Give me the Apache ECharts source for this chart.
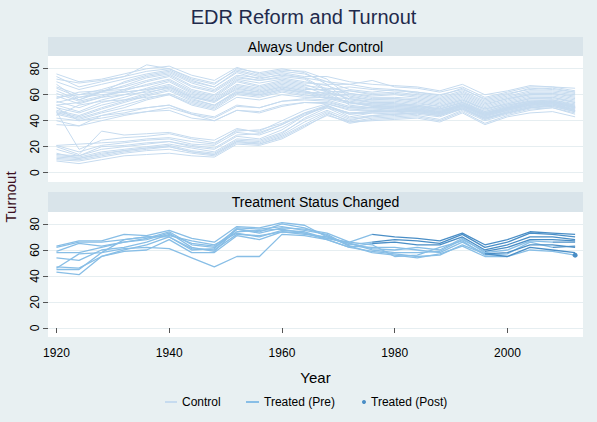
<!DOCTYPE html>
<html><head><meta charset="utf-8">
<script src="https://cdn.jsdelivr.net/npm/echarts@6/dist/echarts.min.js"></script>
<style>html,body{margin:0;padding:0;background:#e8f0f2;}#c{width:597px;height:422px;}</style>
</head><body><div id="c"></div>
<script>
const years = [1920,1924,1928,1932,1936,1940,1944,1948,1952,1956,1960,1964,1968,1972,1976,1980,1984,1988,1992,1996,2000,2004,2008,2012];
const yTicks = [0,20,40,60,80];
const xTicks = [1920,1940,1960,1980,2000];

// Always under control (turnout, %)
const ctrl01 = [76,70,72,76,80,82,75,71,81,76,79,78,72,58,56,56,54,51,56,49,53,57,58,54];
const ctrl02 = [74,66,70,74,78,80,73,69,79,75,78,76,70,64,62,64,61,58,63,55,59,63,63,61];
const ctrl03 = [72,69,71,74,83,80,72,68,80,77,80,77,68,54,52,52,51,48,53,46,50,54,55,50];
const ctrl04 = [70,64,68,72,76,79,71,66,78,74,77,74,74,70,68,67,66,63,68,60,63,67,66,65];
const ctrl05 = [68,56,62,70,75,78,70,66,77,72,76,73,64,56,54,53,52,49,54,47,52,55,56,52];
const ctrl06 = [66,60,64,69,74,77,69,64,75,73,75,73,70,68,65,64,62,60,64,57,61,64,65,62];
const ctrl07 = [65,58,62,67,73,76,67,63,74,71,74,72,63,52,50,50,49,46,51,44,49,52,53,48];
const ctrl08 = [63,56,63,66,71,75,66,62,73,71,73,70,67,61,59,60,58,55,60,52,57,60,61,58];
const ctrl09 = [61,55,59,64,70,74,64,60,72,69,72,69,68,68,71,66,65,62,66,58,62,66,66,63];
const ctrl10 = [59,53,58,63,68,72,63,59,71,67,71,68,62,57,54,54,52,50,55,47,52,56,56,53];
const ctrl11 = [57,62,63,64,67,71,62,58,70,66,70,67,65,63,61,62,60,57,62,54,58,62,62,60];
const ctrl12 = [55,50,56,60,65,70,61,57,68,65,69,66,60,54,52,51,50,48,52,45,50,53,54,50];
const ctrl13 = [54,58,60,62,64,68,60,56,67,64,68,65,63,61,58,58,57,54,59,51,56,60,60,57];
const ctrl14 = [52,47,54,58,63,67,59,55,66,63,67,64,64,66,64,63,62,59,65,56,60,65,64,62];
const ctrl15 = [50,46,52,56,61,66,58,54,65,62,66,63,59,54,51,51,50,47,52,45,50,54,54,50];
const ctrl16 = [48,44,50,55,60,64,56,52,63,61,65,62,61,60,57,57,56,53,58,50,55,59,59,56];
const ctrl17 = [47,43,49,54,59,63,55,51,62,60,64,61,62,63,60,61,59,56,61,53,57,61,61,59];
const ctrl18 = [46,42,47,52,57,61,54,50,61,59,63,60,57,55,53,53,51,49,54,46,51,55,55,52];
const ctrl19 = [45,41,46,50,56,60,53,49,60,58,62,59,60,59,56,57,55,52,57,49,54,58,58,55];
const ctrl20 = [44,52,55,56,58,60,52,48,58,56,60,58,58,57,55,55,53,51,56,48,53,57,57,54];
const ctrl21 = [52,54,58,60,62,65,57,52,62,60,64,62,57,53,53,52,51,49,54,46,51,55,55,51];
const ctrl22 = [58,60,62,62,64,66,58,55,64,62,66,63,58,54,51,50,49,47,52,44,49,53,53,49];
const ctrl23 = [37,36,40,44,47,50,45,42,51,50,55,56,55,50,50,49,48,46,51,43,48,52,53,49];
const ctrl24 = [47,18,25,27,28,30,26,23,32,33,38,46,50,45,46,45,46,44,49,41,46,50,51,47];
const ctrl25 = [50,40,44,48,50,52,46,43,52,50,55,57,56,51,50,49,48,46,52,44,49,53,54,50];
const ctrl26 = [42,40,42,45,47,48,42,40,48,46,51,54,54,50,49,48,47,45,50,42,47,51,52,48];
const ctrl27 = [21,22,23,24,26,27,24,22,33,32,40,48,53,48,48,48,49,47,53,45,50,54,55,51];
const ctrl28 = [20,14,32,29,30,31,27,25,34,31,37,46,52,45,47,47,48,46,52,45,49,53,54,50];
const ctrl29 = [21,16,21,23,25,26,22,21,31,29,35,44,51,46,47,47,48,46,52,44,48,52,54,50];
const ctrl30 = [14,13,18,20,22,24,20,18,28,26,33,44,52,43,46,46,47,45,51,43,48,52,54,50];
const ctrl31 = [13,12,16,18,20,22,19,16,26,25,31,41,48,41,43,44,45,43,49,41,46,50,52,48];
const ctrl32 = [12,11,14,17,19,21,17,15,25,24,30,42,50,42,44,45,46,44,50,42,47,51,53,48];
const ctrl33 = [11,10,13,16,18,20,16,14,24,23,29,39,47,39,42,43,44,41,48,40,45,49,50,46];
const ctrl34 = [10,9,12,15,17,18,15,13,23,22,28,37,46,40,44,45,46,44,50,42,46,50,52,47];
const ctrl35 = [9,7,10,13,14,15,13,12,22,21,26,35,45,38,41,42,43,40,47,38,44,48,50,45];
const ctrl36 = [15,11,15,17,19,20,16,14,24,22,27,36,44,39,40,41,42,39,46,37,43,46,47,43];
const ctrl37 = [18,13,20,21,23,24,21,19,29,30,37,45,51,46,47,47,48,46,52,45,50,54,55,51];
const ctrl38 = [40,36,44,46,50,52,45,40,48,47,52,54,53,49,48,47,47,45,49,42,46,50,51,47];

// Treatment status changed
const trtMN = [54,52,60,62,66,72,65,63,76,73,77,76,73,66,72,70,69,67,73,64,68,74,73,72];
const trtWI = [47,46,55,60,64,70,61,60,72,71,74,72,70,64,66,68,67,65,72,62,66,73,72,70];
const trtME = [43,41,55,59,60,68,58,58,71,68,74,73,68,62,65,66,64,64,70,60,64,70,70,68];
const trtNH = [63,67,67,72,71,75,69,66,78,77,81,79,70,65,60,58,58,59,68,59,62,68,68,67];
const trtID = [59,65,63,66,68,73,62,59,76,74,80,77,71,63,62,62,60,58,66,57,58,64,64,62];
const trtWY = [46,57,58,61,62,61,54,47,55,55,72,71,68,62,59,57,55,56,64,57,55,62,60,58];
const trtIA = [58,58,62,66,69,74,64,62,74,75,76,73,69,65,61,60,62,60,69,58,60,67,66,66];
const trtMT = [62,66,66,68,70,71,67,64,73,70,75,74,69,66,64,55,56,62,67,56,57,66,62,63];
const trtCT = [45,45,58,68,70,70,60,61,77,76,78,75,72,63,58,56,54,57,63,55,55,60,59,56];
const treatStart = [1976,1976,1976,1996,1996,1996,2008,2008,2012];

const controlLines = [ctrl01,ctrl02,ctrl03,ctrl04,ctrl05,ctrl06,ctrl07,ctrl08,ctrl09,ctrl10,ctrl11,ctrl12,ctrl13,ctrl14,ctrl15,ctrl16,ctrl17,ctrl18,ctrl19,ctrl20,ctrl21,ctrl22,ctrl23,ctrl24,ctrl25,ctrl26,ctrl27,ctrl28,ctrl29,ctrl30,ctrl31,ctrl32,ctrl33,ctrl34,ctrl35,ctrl36,ctrl37,ctrl38];
const treatedLines = [trtMN,trtWI,trtME,trtNH,trtID,trtWY,trtIA,trtMT,trtCT];

const C_CTRL = '#c6dbef', C_PRE = '#88bee6', C_POST = '#4a8ec6';
const FONT = 'Liberation Sans, Arial, sans-serif';

const series = [];
controlLines.forEach(v => series.push({
  type:'line', name:'Control', xAxisIndex:0, yAxisIndex:0, color:C_CTRL,
  data: years.map((y,i)=>[y,v[i]]), symbol:'none',
  lineStyle:{color:C_CTRL, width:1}, itemStyle:{color:C_CTRL}, silent:true, z:2
}));
treatedLines.forEach((v,j) => {
  const k = years.indexOf(treatStart[j]);
  series.push({
    type:'line', name:'Treated (Pre)', xAxisIndex:1, yAxisIndex:1, color:C_PRE,
    data: years.slice(0,k+1).map((y,i)=>[y,v[i]]), symbol:'none',
    lineStyle:{color:C_PRE, width:1.3}, itemStyle:{color:C_PRE}, silent:true, z:3
  });
});
treatedLines.forEach((v,j) => {
  const k = years.indexOf(treatStart[j]);
  const single = k === years.length-1;
  series.push({
    type:'line', name:'Treated (Post)', xAxisIndex:1, yAxisIndex:1, color:C_POST,
    data: years.slice(k).map((y,i)=>[y,v[k+i]]),
    symbol: single ? 'circle' : 'none', symbolSize:5, showSymbol:single,
    lineStyle:{color:C_POST, width:1.3}, itemStyle:{color:C_POST}, silent:true, z:4
  });
});

function yAx(gi, min, max){
  return {type:'value', gridIndex:gi, min:min, max:max,
    axisLine:{show:false},
    axisTick:{show:true, length:5, customValues:yTicks, lineStyle:{color:'#555'}},
    axisLabel:{customValues:yTicks, rotate:90, fontSize:12, color:'#000', margin:7, fontFamily:FONT},
    splitLine:{show:true, lineStyle:{color:'#e6eef1', width:1}}};
}

const chart = echarts.init(document.getElementById('c'), null, {renderer:'svg'});
chart.setOption({
  backgroundColor:'#e8f0f2',
  animation:false,
  textStyle:{fontFamily:FONT},
  grid:[
    {left:48, top:56, width:535, height:126, show:true, backgroundColor:'#ffffff', borderWidth:0},
    {left:48, top:212, width:535, height:125, show:true, backgroundColor:'#ffffff', borderWidth:0}
  ],
  xAxis:[
    {type:'value', gridIndex:0, min:1918.5, max:2013.4, show:false, splitLine:{show:false}},
    {type:'value', gridIndex:1, min:1918.5, max:2013.4,
     axisLine:{show:false},
     axisTick:{show:true, length:5, customValues:xTicks, lineStyle:{color:'#555'}},
     axisLabel:{customValues:xTicks, fontSize:12, color:'#000', margin:10, fontFamily:FONT,
                formatter: v => String(v)},
     splitLine:{show:false},
     name:'Year', nameLocation:'middle', nameGap:33,
     nameTextStyle:{fontSize:15, color:'#000', fontFamily:FONT}}
  ],
  yAxis:[ yAx(0,-7.15,89.8), yAx(1,-6.9,89.2) ],
  legend:[
    {data:[{name:'Control', icon:'rect'}], left:160, top:391, itemWidth:12, itemHeight:2, itemGap:0,
     textStyle:{fontSize:12, color:'#000', fontFamily:FONT}, selectedMode:false},
    {data:[{name:'Treated (Pre)', icon:'rect'}], left:241, top:391, itemWidth:13, itemHeight:2, itemGap:0,
     textStyle:{fontSize:12, color:'#000', fontFamily:FONT}, selectedMode:false},
    {data:[{name:'Treated (Post)', icon:'circle'}], left:357, top:391, itemWidth:4, itemHeight:4, itemGap:0,
     textStyle:{fontSize:12, color:'#000', fontFamily:FONT}, selectedMode:false}
  ],
  graphic:[
    {type:'text', x:303.5, y:17, style:{text:'EDR Reform and Turnout', font:'20px '+FONT, fill:'#1f2a4c', align:'center', verticalAlign:'middle', textAlign:'center', textVerticalAlign:'middle'}},
    {type:'rect', shape:{x:48, y:37, width:535, height:19}, style:{fill:'#d9e4ea'}},
    {type:'text', x:315.5, y:46.5, style:{text:'Always Under Control', font:'14px '+FONT, fill:'#000', align:'center', verticalAlign:'middle', textAlign:'center', textVerticalAlign:'middle'}},
    {type:'rect', shape:{x:48, y:192, width:535, height:20}, style:{fill:'#d9e4ea'}},
    {type:'text', x:315.5, y:202, style:{text:'Treatment Status Changed', font:'14px '+FONT, fill:'#000', align:'center', verticalAlign:'middle', textAlign:'center', textVerticalAlign:'middle'}},
    {type:'text', x:10, y:197, rotation:Math.PI/2, style:{text:'Turnout', font:'15px '+FONT, fill:'#3d1022', align:'center', verticalAlign:'middle', textAlign:'center', textVerticalAlign:'middle'}}
  ],
  series: series
});
</script></body></html>
